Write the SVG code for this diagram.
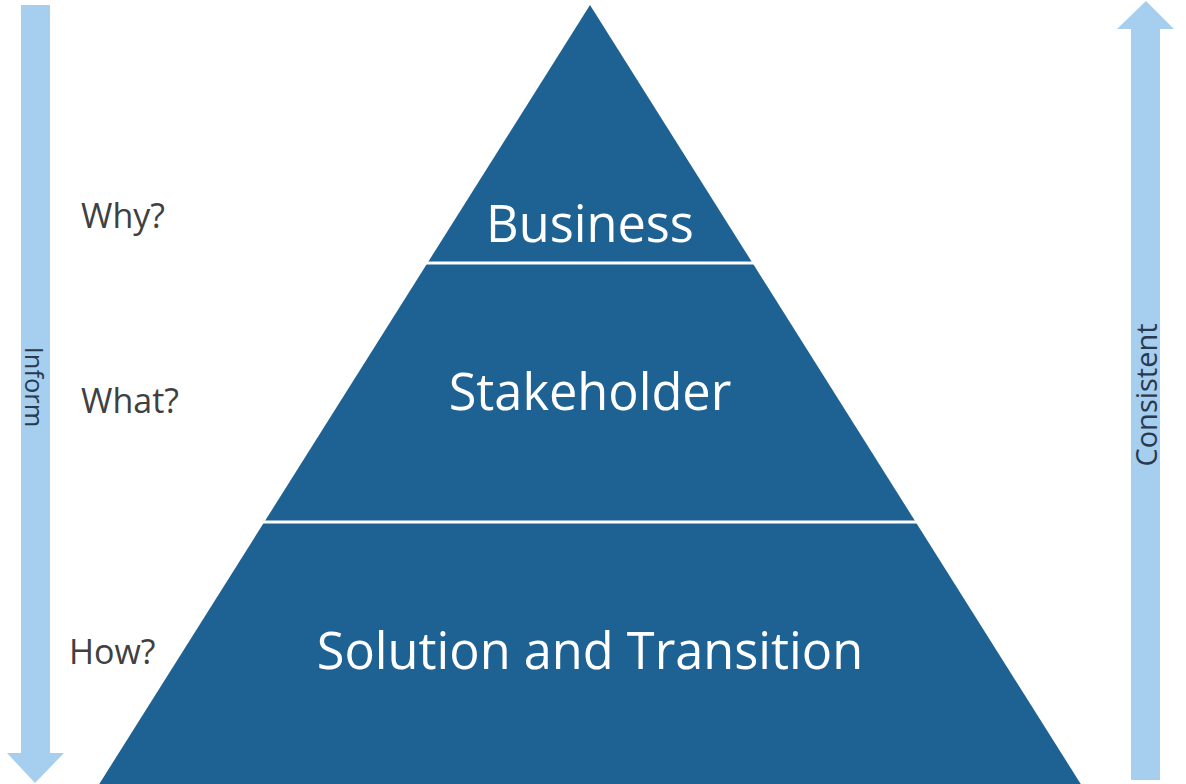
<svg xmlns="http://www.w3.org/2000/svg" width="1186" height="784" viewBox="0 0 1186 784">
<style>
.arrow{fill:#A6CEEE}
.tier{fill:#1E6193}
.sep{stroke:#FFFFFF;stroke-width:3}
.big{font-family:"Open Sans","Liberation Sans",sans-serif;fill:#FFFFFF;text-anchor:middle;font-size:50.5px}
.q{font-family:"Open Sans","Liberation Sans",sans-serif;fill:#404040;font-size:34px}
.side{font-family:"Open Sans","Liberation Sans",sans-serif;fill:#2A3A4E;text-anchor:middle}
</style>
<rect width="1186" height="784" fill="#FFFFFF"/>
<g id="connectors">
<g id="inform-arrow">
<polygon class="arrow" points="21,5 50,5 50,753 64,753 35,783 7,753 21,753"/>
<text class="side" font-size="25.5" transform="translate(25,387) rotate(90)">Inform</text>
</g>
<g id="consistent-arrow">
<polygon class="arrow" points="1146,1 1174,29 1160,29 1160,780 1131,780 1131,29 1117,29"/>
<text class="side" font-size="29" transform="translate(1157,395) rotate(-90)">Consistent</text>
</g>
</g>
<g id="pyramid">
<polygon class="tier" points="590,5 1082,786 98,786"/>
<line class="sep" x1="420" y1="263" x2="760" y2="263"/>
<line class="sep" x1="255" y1="522" x2="925" y2="522"/>
</g>
<g id="business"><text class="big" x="590" y="242">Business</text></g>
<g id="stakeholder"><text class="big" x="590" y="410">Stakeholder</text></g>
<g id="solution"><text class="big" x="590" y="669">Solution and Transition</text></g>
<g id="why"><text class="q" x="81" y="228">Why?</text></g>
<g id="what"><text class="q" x="81" y="413">What?</text></g>
<g id="how"><text class="q" x="69" y="664">How?</text></g>
</svg>
